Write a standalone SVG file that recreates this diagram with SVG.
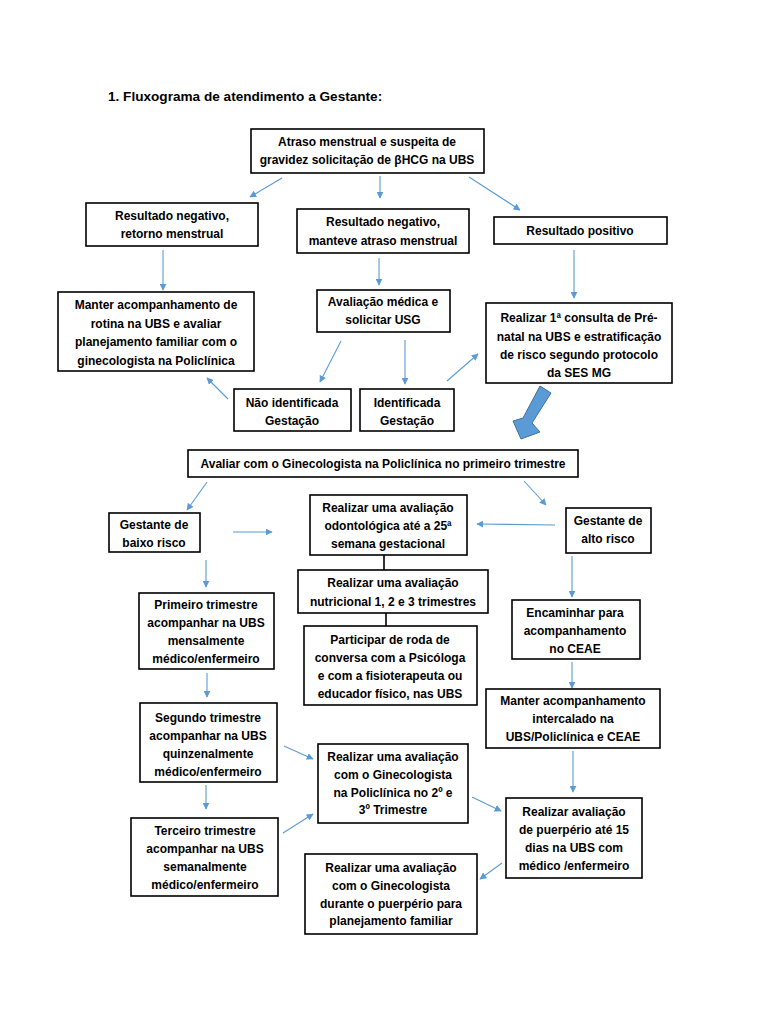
<svg xmlns="http://www.w3.org/2000/svg" width="768" height="1024" viewBox="0 0 768 1024">
<defs>
<style>
.bg{fill:#ffffff}
.box{fill:#ffffff;stroke:#000000;stroke-width:1.6}
.t{font-family:"Liberation Sans",Arial,sans-serif;font-size:12px;font-weight:bold;fill:#000000;text-anchor:middle}
.title{font-family:"Liberation Sans",Arial,sans-serif;font-size:13.6px;font-weight:bold;fill:#000000}
.c{fill:none;stroke:#5B9BD5;stroke-width:1.1;marker-end:url(#ah)}
.k{fill:none;stroke:#000000;stroke-width:1.6}
.big{fill:#5B9BD5;stroke:#41719C;stroke-width:1}
</style>
<marker id="ah" viewBox="0 0 10 10" refX="9" refY="5" markerWidth="7" markerHeight="7" markerUnits="userSpaceOnUse" orient="auto">
<path d="M0,0 L10,5 L0,10 z" fill="#5B9BD5"/>
</marker>
</defs>
<rect class="bg" x="0" y="0" width="768" height="1024"/>
<text class="title" x="108" y="101">1. Fluxograma de atendimento a Gestante:</text>

<g id="connectors">
<line class="c" x1="282" y1="178" x2="250" y2="197"/>
<line class="c" x1="380" y1="176" x2="380" y2="198"/>
<line class="c" x1="469" y1="177" x2="520" y2="210"/>
<line class="c" x1="163" y1="250" x2="163" y2="290"/>
<line class="c" x1="379" y1="258" x2="379" y2="285"/>
<line class="c" x1="574" y1="250" x2="574" y2="298"/>
<line class="c" x1="341" y1="341" x2="320" y2="382"/>
<line class="c" x1="405" y1="340" x2="405" y2="384"/>
<line class="c" x1="228" y1="399" x2="207" y2="378"/>
<line class="c" x1="447" y1="381" x2="478" y2="354"/>
<line class="c" x1="207" y1="482" x2="187" y2="510"/>
<line class="c" x1="524" y1="481" x2="546" y2="505"/>
<line class="c" x1="233" y1="532" x2="272" y2="532"/>
<line class="c" x1="555" y1="525" x2="477" y2="524"/>
<line class="k" x1="384" y1="555" x2="384" y2="570"/>
<line class="k" x1="386" y1="613" x2="386" y2="626"/>
<line class="c" x1="206" y1="560" x2="206" y2="587"/>
<line class="c" x1="207" y1="673" x2="207" y2="697"/>
<line class="c" x1="206" y1="785" x2="206" y2="809"/>
<line class="c" x1="284" y1="746" x2="313" y2="759"/>
<line class="c" x1="283" y1="833" x2="313" y2="814"/>
<line class="c" x1="572" y1="556" x2="572" y2="597"/>
<line class="c" x1="572" y1="662" x2="572" y2="688"/>
<line class="c" x1="573" y1="751" x2="573" y2="792"/>
<line class="c" x1="472" y1="797" x2="501" y2="811"/>
<line class="c" x1="502" y1="863" x2="480" y2="879"/>
<path class="big" d="M540,386 L551,393 L532,423 L540,432 L521,439 L513,421 L523,418 Z"/>
</g>

<g id="n-atraso">
<rect class="box" x="251" y="129" width="233" height="44"/>
<text class="t" x="367" y="146">Atraso menstrual e suspeita de</text>
<text class="t" x="367" y="164">gravidez solicitação de βHCG na UBS</text>
</g>
<g id="n-neg-retorno">
<rect class="box" x="86" y="203" width="172" height="43"/>
<text class="t" x="172" y="220">Resultado negativo,</text>
<text class="t" x="172" y="238">retorno menstrual</text>
</g>
<g id="n-neg-atraso">
<rect class="box" x="297" y="209" width="172" height="44"/>
<text class="t" x="383" y="226">Resultado negativo,</text>
<text class="t" x="383" y="245">manteve atraso menstrual</text>
</g>
<g id="n-positivo">
<rect class="box" x="494" y="217" width="173" height="27"/>
<text class="t" x="580" y="235">Resultado positivo</text>
</g>
<g id="n-manter-rotina">
<rect class="box" x="58" y="292" width="196" height="79"/>
<text class="t" x="156" y="309">Manter acompanhamento de</text>
<text class="t" x="156" y="328">rotina na UBS e avaliar</text>
<text class="t" x="156" y="346">planejamento familiar com o</text>
<text class="t" x="156" y="365">ginecologista na Policlínica</text>
</g>
<g id="n-avaliacao-usg">
<rect class="box" x="317" y="290" width="133" height="42"/>
<text class="t" x="383" y="306">Avaliação médica e</text>
<text class="t" x="383" y="324">solicitar USG</text>
</g>
<g id="n-primeira-consulta">
<rect class="box" x="486" y="303" width="186" height="80"/>
<text class="t" x="579" y="322">Realizar 1ª consulta de Pré-</text>
<text class="t" x="579" y="341">natal na UBS e estratificação</text>
<text class="t" x="579" y="359">de risco segundo protocolo</text>
<text class="t" x="579" y="377">da SES MG</text>
</g>
<g id="n-nao-identificada">
<rect class="box" x="234" y="389" width="117" height="42"/>
<text class="t" x="292" y="407">Não identificada</text>
<text class="t" x="292" y="425">Gestação</text>
</g>
<g id="n-identificada">
<rect class="box" x="360" y="389" width="94" height="42"/>
<text class="t" x="407" y="407">Identificada</text>
<text class="t" x="407" y="425">Gestação</text>
</g>
<g id="n-avaliar-gineco">
<rect class="box" x="188" y="450" width="390" height="27"/>
<text class="t" x="383" y="468">Avaliar com o Ginecologista na Policlínica no primeiro trimestre</text>
</g>
<g id="n-baixo-risco">
<rect class="box" x="109" y="513" width="91" height="39"/>
<text class="t" x="154" y="529">Gestante de</text>
<text class="t" x="154" y="547">baixo risco</text>
</g>
<g id="n-odonto">
<rect class="box" x="310" y="495" width="157" height="60"/>
<text class="t" x="388" y="512">Realizar uma avaliação</text>
<text class="t" x="388" y="530">odontológica até a 25ª</text>
<text class="t" x="388" y="548">semana gestacional</text>
</g>
<g id="n-alto-risco">
<rect class="box" x="566" y="508" width="85" height="45"/>
<text class="t" x="608" y="525">Gestante de</text>
<text class="t" x="608" y="543">alto risco</text>
</g>
<g id="n-nutricional">
<rect class="box" x="298" y="570" width="190" height="43"/>
<text class="t" x="393" y="587">Realizar uma avaliação</text>
<text class="t" x="393" y="606">nutricional 1, 2 e 3 trimestres</text>
</g>
<g id="n-roda">
<rect class="box" x="304" y="626" width="173" height="79"/>
<text class="t" x="390" y="644">Participar de roda de</text>
<text class="t" x="390" y="662">conversa com a Psicóloga</text>
<text class="t" x="390" y="680">e com a fisioterapeuta ou</text>
<text class="t" x="390" y="698">educador físico, nas UBS</text>
</g>
<g id="n-primeiro-tri">
<rect class="box" x="139" y="593" width="135" height="76"/>
<text class="t" x="206" y="609">Primeiro trimestre</text>
<text class="t" x="206" y="627">acompanhar na UBS</text>
<text class="t" x="206" y="645">mensalmente</text>
<text class="t" x="206" y="663">médico/enfermeiro</text>
</g>
<g id="n-segundo-tri">
<rect class="box" x="140" y="703" width="137" height="79"/>
<text class="t" x="208" y="722">Segundo trimestre</text>
<text class="t" x="208" y="740">acompanhar na UBS</text>
<text class="t" x="208" y="758">quinzenalmente</text>
<text class="t" x="208" y="776">médico/enfermeiro</text>
</g>
<g id="n-terceiro-tri">
<rect class="box" x="131" y="818" width="147" height="78"/>
<text class="t" x="205" y="835">Terceiro trimestre</text>
<text class="t" x="205" y="853">acompanhar na UBS</text>
<text class="t" x="205" y="871">semanalmente</text>
<text class="t" x="205" y="889">médico/enfermeiro</text>
</g>
<g id="n-gineco-2-3">
<rect class="box" x="318" y="744" width="150" height="79"/>
<text class="t" x="393" y="761">Realizar uma avaliação</text>
<text class="t" x="393" y="779">com o Ginecologista</text>
<text class="t" x="393" y="797">na Policlínica no 2º e</text>
<text class="t" x="393" y="814">3º Trimestre</text>
</g>
<g id="n-encaminhar-ceae">
<rect class="box" x="512" y="600" width="128" height="59"/>
<text class="t" x="575" y="617">Encaminhar para</text>
<text class="t" x="575" y="635">acompanhamento</text>
<text class="t" x="575" y="653">no CEAE</text>
</g>
<g id="n-intercalado">
<rect class="box" x="486" y="689" width="174" height="59"/>
<text class="t" x="573" y="705">Manter acompanhamento</text>
<text class="t" x="573" y="723">intercalado na</text>
<text class="t" x="573" y="741">UBS/Policlínica e CEAE</text>
</g>
<g id="n-puerperio">
<rect class="box" x="506" y="798" width="136" height="80"/>
<text class="t" x="574" y="816">Realizar avaliação</text>
<text class="t" x="574" y="834">de puerpério até 15</text>
<text class="t" x="574" y="852">dias na UBS com</text>
<text class="t" x="574" y="870">médico /enfermeiro</text>
</g>
<g id="n-gineco-puerperio">
<rect class="box" x="305" y="854" width="172" height="80"/>
<text class="t" x="391" y="872">Realizar uma avaliação</text>
<text class="t" x="391" y="890">com o Ginecologista</text>
<text class="t" x="391" y="908">durante o puerpério para</text>
<text class="t" x="391" y="925">planejamento familiar</text>
</g>
</svg>
